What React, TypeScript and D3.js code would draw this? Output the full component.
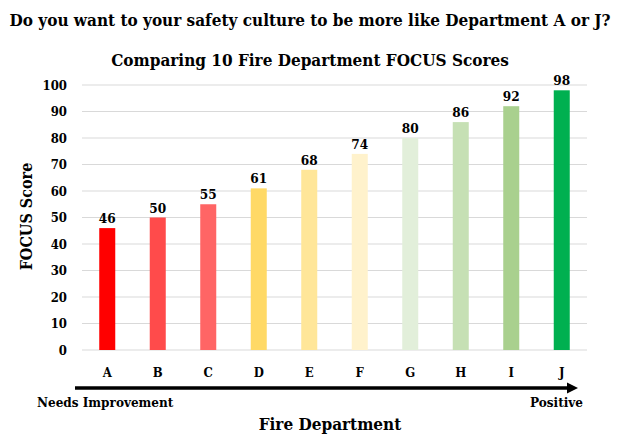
import { useEffect, useRef } from 'react';
import { scaleBand, scaleLinear, select } from 'd3';

const departments = ['A', 'B', 'C', 'D', 'E', 'F', 'G', 'H', 'I', 'J'];
const scores = [46, 50, 55, 61, 68, 74, 80, 86, 92, 98];
const barColors = [
  '#FF0000', '#FF4B4B', '#FF6565', '#FFD966', '#FFE699',
  '#FFF2CC', '#E2EFDA', '#C6E0B4', '#A9D08E', '#00B050',
];
const yTicks = [0, 10, 20, 30, 40, 50, 60, 70, 80, 90, 100];

const width = 620;
const height = 447;
const font = "'DejaVu Serif Condensed', 'DejaVu Serif', serif";

const x = scaleBand<string>().domain(departments).range([82, 587]).paddingInner(0.683).paddingOuter(0.3415);
const y = scaleLinear().domain([0, 100]).range([350, 85]);

const Grid = () => {
  const ref = useRef<SVGGElement>(null);
  useEffect(() => {
    if (!ref.current) return;
    const g = select(ref.current);
    g.selectAll('*').remove();
    g.selectAll('line')
      .data(yTicks)
      .join('line')
      .attr('x1', 82)
      .attr('x2', 587)
      .attr('y1', (d) => y(d))
      .attr('y2', (d) => y(d))
      .attr('stroke', '#d9d9d9')
      .attr('stroke-width', 1);
    g.selectAll('text')
      .data(yTicks)
      .join('text')
      .attr('x', 67)
      .attr('y', (d) => y(d))
      .attr('dy', '0.35em')
      .attr('text-anchor', 'end')
      .attr('font-size', 13)
      .attr('font-weight', 'bold')
      .text((d) => d);
  });
  return <g ref={ref} />;
};

export default function App() {
  const bw = x.bandwidth();
  return (
    <svg width={width} height={height} style={{ position: 'absolute', left: 0, top: 0 }} fontFamily={font}>
      <rect width={width} height={height} fill="#fff" />
      <text x={310} y={26} textAnchor="middle" fontSize={17} fontWeight="bold">
        Do you want to your safety culture to be more like Department A or J?
      </text>
      <text x={310} y={66} textAnchor="middle" fontSize={17} fontWeight="bold">
        Comparing 10 Fire Department FOCUS Scores
      </text>
      <Grid />
      {departments.map((d, i) => (
        <g key={d}>
          <rect x={x(d)} y={y(scores[i])} width={bw} height={y(0) - y(scores[i])} fill={barColors[i]} />
          <text
            x={(x(d) ?? 0) + bw / 2}
            y={y(scores[i]) - 5}
            textAnchor="middle"
            fontSize={13.5}
            fontWeight="bold"
          >
            {scores[i]}
          </text>
          <text x={(x(d) ?? 0) + bw / 2} y={377} textAnchor="middle" fontSize={13} fontWeight="bold">
            {d}
          </text>
        </g>
      ))}
      <line x1={75} x2={568} y1={388} y2={388} stroke="#000" strokeWidth={3.5} />
      <polygon points="567,382.5 578,388 567,393.5" fill="#000" />
      <text x={37} y={407} fontSize={13.4} fontWeight="bold">
        Needs Improvement
      </text>
      <text x={583} y={407} textAnchor="end" fontSize={13.4} fontWeight="bold">
        Positive
      </text>
      <text x={330} y={430} textAnchor="middle" fontSize={17} fontWeight="bold">
        Fire Department
      </text>
      <text
        transform="translate(32, 216.5) rotate(-90)"
        textAnchor="middle"
        fontSize={16}
        fontWeight="bold"
      >
        FOCUS Score
      </text>
    </svg>
  );
}
